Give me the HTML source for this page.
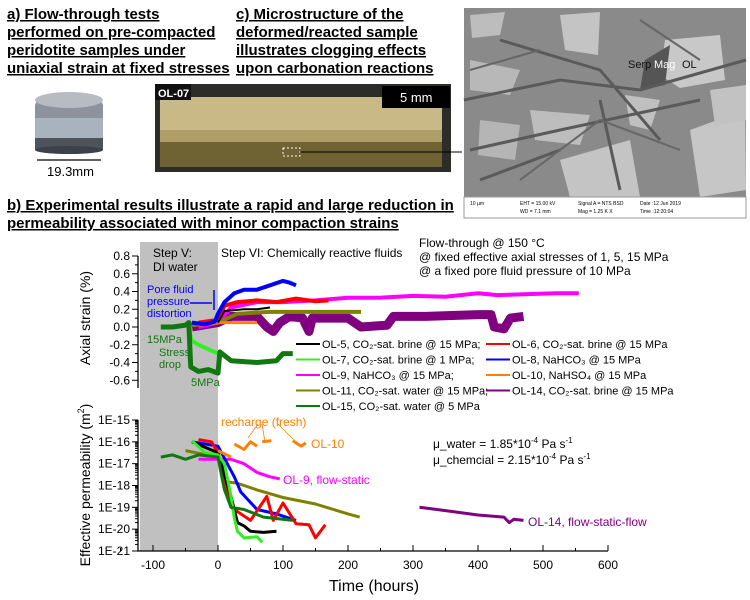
<!DOCTYPE html>
<html><head><meta charset="utf-8"><style>
body{margin:0;background:#fff;width:750px;height:600px;overflow:hidden;font-family:"Liberation Sans",Arial,sans-serif}
svg{display:block}
.h{font-weight:bold;font-size:15px;text-decoration:underline}
.t{font-size:12px}
</style></head><body>
<svg id="fig" width="750" height="600" xmlns="http://www.w3.org/2000/svg">
<g>
<text class="h" x="7" y="19">a) Flow-through tests</text>
<text class="h" x="7" y="37">performed on pre-compacted</text>
<text class="h" x="7" y="55">peridotite samples under</text>
<text class="h" x="7" y="73">uniaxial strain at fixed stresses</text>
<g>
<rect x="35" y="100" width="68" height="50" rx="6" fill="#8d939c"/>
<ellipse cx="69" cy="100" rx="34" ry="8" fill="#b7bcc2"/>
<rect x="35" y="118" width="68" height="20" fill="#a9b3bd"/>
<rect x="35" y="138" width="68" height="12" fill="#4d535b"/>
<ellipse cx="69" cy="150" rx="34" ry="4" fill="#3c4048"/>
</g>
<line x1="37" y1="160" x2="101" y2="160" stroke="#000" stroke-width="1.2"/>
<text x="47" y="176" font-size="13">19.3mm</text>
</g>
<g>
<text class="h" x="236" y="19">c) Microstructure of the</text>
<text class="h" x="236" y="37">deformed/reacted sample</text>
<text class="h" x="236" y="55">illustrates clogging effects</text>
<text class="h" x="236" y="73">upon carbonation reactions</text>
<g>
<rect x="155" y="84" width="296" height="88" fill="#2c2c28"/>
<rect x="160" y="97" width="282" height="70" fill="#a08f55"/>
<rect x="160" y="97" width="282" height="33" fill="#c9b987"/>
<rect x="160" y="130" width="282" height="12" fill="#b09e68"/>
<rect x="160" y="142" width="282" height="25" fill="#6f6233"/>
<rect x="155" y="84" width="36" height="16" fill="#111"/>
<text x="158" y="97" font-size="11" font-weight="bold" fill="#fff">OL-07</text>
<rect x="382" y="86" width="68" height="22" fill="#000"/>
<text x="400" y="102" font-size="13" fill="#fff">5 mm</text>
<rect x="283" y="148" width="17" height="8" fill="none" stroke="#fff" stroke-dasharray="2,2"/>
<line x1="300" y1="152" x2="462" y2="152" stroke="#000"/>
</g>
<g>
<rect x="464" y="8" width="282" height="189" fill="#8a8a8a"/>
<polygon points="560,15 600,12 598,55 565,50" fill="#c4c4c4"/>
<polygon points="665,40 720,35 725,80 680,88 660,75" fill="#c8c8c8"/>
<polygon points="560,160 630,140 640,197 570,197" fill="#c4c4c4"/>
<polygon points="690,130 745,110 746,190 700,197" fill="#c6c6c6"/>
<polygon points="530,110 590,115 580,145 535,140" fill="#bdbdbd"/>
<polygon points="645,60 670,45 665,85 640,90" fill="#555"/>
<polygon points="470,60 520,70 510,95 470,90" fill="#b8b8b8"/>
<polygon points="625,95 660,100 650,130 630,125" fill="#c0c0c0"/>
<polygon points="470,15 505,12 500,35 472,38" fill="#bdbdbd"/>
<polygon points="710,90 746,85 746,120 715,125" fill="#c2c2c2"/>
<polygon points="480,120 520,125 515,160 478,155" fill="#b5b5b5"/>
<path d="M464 100 L560 80 L640 90 L746 60 M470 150 L560 130 L700 100 M500 40 L600 70 L660 140 M600 100 L620 190 M480 180 L560 150" stroke="#5a5a5a" stroke-width="3" fill="none"/>
<path d="M470 70 L540 50 M520 180 L600 120 L680 150 M640 20 L700 60" stroke="#666" stroke-width="2" fill="none"/>
<rect x="464" y="197" width="282" height="21" fill="#fff" stroke="#999"/>
<text x="628" y="68" font-size="11" fill="#111">Serp</text><text x="654" y="68" font-size="11" fill="#fff">Mag</text><text x="682" y="68" font-size="11" fill="#111">OL</text>
<text x="470" y="205" font-size="5">10 µm</text><text x="520" y="205" font-size="5">EHT = 15.00 kV</text><text x="578" y="205" font-size="5">Signal A = NTS BSD</text><text x="640" y="205" font-size="5">Date :12 Jun 2019</text>
<text x="520" y="213" font-size="5">WD = 7.1 mm</text><text x="578" y="213" font-size="5">Mag = 1.25 K X</text><text x="640" y="213" font-size="5">Time :12:20:04</text>
</g>
</g>
<text class="h" x="7" y="210">b) Experimental results illustrate a rapid and large reduction in</text>
<text class="h" x="7" y="228">permeability associated with minor compaction strains</text>
<g id="chart"></g>
</svg>
<script>
// time axis ticks
const xTicks=[-100,0,100,200,300,400,500,600];
const strainTicks=[0.8,0.6,0.4,0.2,0.0,-0.2,-0.4,-0.6];
const strainTickLabels=["0.8","0.6","0.4","0.2","0.0","-0.2","-0.4","-0.6"];
const permTicks=[-15,-16,-17,-18,-19,-20,-21];
const permTickLabels=["1E-15","1E-16","1E-17","1E-18","1E-19","1E-20","1E-21"];
const seriesNames=["OL-5","OL-6","OL-7","OL-8","OL-9","OL-10","OL-11","OL-14","OL-15"];
const seriesColors={"OL-5":"#000","OL-6":"#ff0000","OL-7":"#33ee22","OL-8":"#0000ff","OL-9":"#ff00ff","OL-10":"#ff8000","OL-11":"#808000","OL-14":"#800080","OL-15":"#117711"};
const legendLeft=["OL-5, CO₂-sat. brine @ 15 MPa;","OL-7, CO₂-sat. brine @ 1 MPa;","OL-9, NaHCO₃ @ 15 MPa;","OL-11, CO₂-sat. water @ 15 MPa;","OL-15, CO₂-sat. water @ 5 MPa"];
const legendRight=["OL-6, CO₂-sat. brine @ 15 MPa","OL-8, NaHCO₃ @ 15 MPa","OL-10, NaHSO₄ @ 15 MPa","OL-14, CO₂-sat. brine @ 15 MPa"];
// strain series: [time h, strain %]
const strainOL14=[[-40,0.0],[0,0.05],[20,0.12],[60,0.12],[75,0.0],[85,-0.05],[95,0.05],[110,0.12],[130,0.1],[140,-0.05],[145,0.1],[200,0.1],[220,0.0],[260,0.02],[270,0.12],[320,0.12],[400,0.14],[420,0.14],[425,0.0],[440,-0.02],[450,0.1],[470,0.12]];
const strainOL9=[[-30,0.0],[0,0.05],[20,0.22],[60,0.28],[100,0.28],[150,0.3],[200,0.33],[250,0.33],[300,0.35],[350,0.34],[400,0.38],[430,0.36],[470,0.37],[520,0.38],[555,0.38]];
const strainOL6=[[-30,0.05],[0,0.08],[10,0.24],[30,0.28],[60,0.3],[90,0.28],[120,0.32],[150,0.29],[170,0.3]];
const strainOL8=[[-40,0.05],[-20,0.03],[-5,0.06],[0,0.15],[10,0.28],[25,0.38],[40,0.42],[60,0.42],[80,0.47],[100,0.52],[110,0.5],[120,0.47]];
const strainOL11=[[-40,0.02],[0,0.05],[30,0.15],[80,0.17],[130,0.17],[180,0.17],[220,0.17]];
const strainOL10=[[-20,0.03],[0,0.05],[30,0.05],[60,0.05]];
const strainOL5=[[0,0.05],[10,0.18],[40,0.2],[60,0.2],[80,0.22]];
const strainOL7=[[-45,0.0],[-41,-0.15],[-30,-0.2],[-15,-0.25],[0,-0.3]];
const strainOL15=[[-88,0.0],[-70,0.0],[-50,0.02],[-45,0.05],[-42,-0.45],[-30,-0.5],[-15,-0.48],[0,-0.52],[3,-0.28],[20,-0.38],[60,-0.4],[90,-0.38],[100,-0.3],[115,-0.3]];
// permeability series: [time h, log10 k]
const permOL15=[[-88,-16.7],[-70,-16.6],[-50,-16.8],[-30,-16.6],[0,-16.7],[5,-17.5],[10,-18.2],[20,-19.0],[40,-19.1],[70,-19.45],[115,-19.6]];
const permOL7=[[-40,-15.95],[-20,-16.5],[0,-16.6],[10,-17.0],[20,-18.5],[25,-19.5],[30,-20.1],[40,-20.4],[60,-20.35],[68,-20.6]];
const permOL5=[[-40,-16.0],[0,-16.5],[20,-18.5],[30,-19.7],[40,-19.85],[50,-20.1],[70,-20.15],[90,-20.1]];
const permOL6=[[-30,-15.9],[-10,-16.0],[0,-16.5],[20,-19.0],[50,-19.6],[75,-18.5],[85,-19.6],[100,-18.8],[120,-19.75],[140,-19.8],[150,-20.4],[165,-19.8]];
const permOL8=[[-40,-16.0],[0,-16.2],[25,-17.6],[35,-18.3],[60,-19.1],[90,-19.3],[120,-19.6]];
const permOL9=[[-30,-16.8],[20,-16.8],[40,-17.0],[60,-17.4],[80,-17.6],[95,-17.7]];
const permOL11=[[-50,-16.4],[0,-16.7],[8,-17.8],[30,-17.9],[60,-18.2],[100,-18.55],[150,-18.85],[200,-19.3],[218,-19.45]];
const permOL10a=[[0,-16.4],[20,-16.7]];
const permOL10b=[[25,-16.1],[40,-16.35],[50,-16.0],[60,-16.2]];
const permOL10c=[[68,-16.0],[82,-15.95]];
const permOL10d=[[115,-15.95],[128,-16.2],[135,-16.05]];
const permOL14=[[310,-19.0],[350,-19.15],[400,-19.35],[440,-19.45],[448,-19.7],[455,-19.55],[470,-19.6]];

const NS="http://www.w3.org/2000/svg";
const g=document.getElementById('chart');
const X=t=>218+t*0.65;
const YS=s=>327-s*88.75;
const YP=l=>420+(-15-l)*21.83;
function mk(tag,at,parent){const e=document.createElementNS(NS,tag);for(const k in at)e.setAttribute(k,at[k]);(parent||g).appendChild(e);return e;}
function txt(x,y,s,at){const e=mk('text',Object.assign({x:x,y:y},at||{}));e.textContent=s;return e;}

const box=mk('rect',{x:X(-120),y:242,width:X(0)-X(-120),height:551-242,fill:'#c0c0c0'});



// axes
const ax=mk('path',{d:`M138 256 V388 M138 420 V551 H${X(600)}`,stroke:'#000','stroke-width':1.3,fill:'none'});


strainTicks.forEach((v,i)=>{
  mk('line',{x1:132,x2:138,y1:YS(v),y2:YS(v),stroke:'#000'});
  if(i<strainTicks.length-1) mk('line',{x1:135,x2:138,y1:YS(v-0.1),y2:YS(v-0.1),stroke:'#000'});
  const e=txt(130,YS(v)+4,strainTickLabels[i],{'font-size':12,'text-anchor':'end'});
  
  
});
permTicks.forEach((v,i)=>{
  mk('line',{x1:132,x2:138,y1:YP(v),y2:YP(v),stroke:'#000'});
  if(i<permTicks.length-1) for(let m=2;m<10;m++){const yy=YP(v-1+Math.log10(m));mk('line',{x1:135,x2:138,y1:yy,y2:yy,stroke:'#000'});}
  const e=txt(130,YP(v)+4,permTickLabels[i],{'font-size':12,'text-anchor':'end'});
  
  
});
xTicks.forEach(v=>{
  mk('line',{x1:X(v),x2:X(v),y1:551,y2:545,stroke:'#000'});
  mk('line',{x1:X(v-50),x2:X(v-50),y1:551,y2:548,stroke:'#000'});
  const e=txt(X(v),569,String(v),{'font-size':12,'text-anchor':'middle'});
  
  
});
let e;
e=txt(374,591,'Time (hours)',{'font-size':16,'text-anchor':'middle'});


e=txt(0,0,'Axial strain (%)',{'font-size':14,'text-anchor':'middle',transform:'translate(90,318) rotate(-90)'});


e=txt(0,0,'',{'font-size':14,'text-anchor':'middle',transform:'translate(90,485) rotate(-90)'});
e.innerHTML='Effective permeability (m<tspan font-size="9" dy="-6">2</tspan><tspan dy="6">)</tspan>';



function line(arr,Y,color,w,name){
  const d=arr.map((p,i)=>(i?'L':'M')+X(p[0]).toFixed(1)+' '+Y(p[1]).toFixed(1)).join(' ');
  const p=mk('path',{d:d,stroke:color,'stroke-width':w,fill:'none','stroke-linejoin':'round'});
  
  
}
const C=seriesColors;
line(strainOL14,YS,C['OL-14'],9,'strain-ol14');
line(strainOL9,YS,C['OL-9'],4,'strain-ol9');
line(strainOL11,YS,C['OL-11'],4,'strain-ol11');
line(strainOL10,YS,C['OL-10'],3,'strain-ol10');
line(strainOL6,YS,C['OL-6'],4,'strain-ol6');
line(strainOL8,YS,C['OL-8'],4,'strain-ol8');
line(strainOL5,YS,C['OL-5'],2,'strain-ol5');
line(strainOL7,YS,C['OL-7'],4,'strain-ol7');
line(strainOL15,YS,C['OL-15'],5,'strain-ol15');

line(permOL11,YP,C['OL-11'],3,'perm-ol11');
line(permOL9,YP,C['OL-9'],3,'perm-ol9');
line(permOL8,YP,C['OL-8'],3,'perm-ol8');
line(permOL6,YP,C['OL-6'],3,'perm-ol6');
line(permOL5,YP,C['OL-5'],3,'perm-ol5');
line(permOL7,YP,C['OL-7'],3,'perm-ol7');
line(permOL15,YP,C['OL-15'],3,'perm-ol15');
[permOL10a,permOL10b,permOL10c,permOL10d].forEach(a=>line(a,YP,C['OL-10'],3,'perm-ol10'));
line(permOL14,YP,C['OL-14'],3,'perm-ol14');

// legend
legendLeft.forEach((s,i)=>{
  const y=348+i*15.5;const c=C[s.split(',')[0]];
  mk('line',{x1:296,x2:320,y1:y-4,y2:y-4,stroke:c,'stroke-width':2});
  const t=txt(322,y,s,{'font-size':11});
  
  
});
legendRight.forEach((s,i)=>{
  const y=348+i*15.5;const c=C[s.split(',')[0]];
  mk('line',{x1:486,x2:510,y1:y-4,y2:y-4,stroke:c,'stroke-width':2});
  const t=txt(512,y,s,{'font-size':11});
  
  
});

// annotations
const ann=[
 [153,257,'Step V:',12,'#000'],[153,271,'DI water',12,'#000'],[221,257,'Step VI: Chemically reactive fluids',12,'#000'],
 [419,247,'Flow-through @ 150 °C',12,'#000'],[419,261,'@ fixed effective axial stresses of 1, 5, 15 MPa',12,'#000'],[419,275,'@ a fixed pore fluid pressure of 10 MPa',12,'#000'],
 [147,293,'Pore fluid',11,'#0000ff'],[147,305,'pressure',11,'#0000ff'],[147,317,'distortion',11,'#0000ff'],
 [147,343,'15MPa',11,'#117711'],[159,356,'Stress',11,'#117711'],[159,368,'drop',11,'#117711'],[191,386,'5MPa',11,'#117711'],
 [221,426,'recharge (fresh)',12,'#ff8000'],[311,448,'OL-10',12,'#ff8000'],[283,484,'OL-9, flow-static',12,'#ff00ff'],
 [528,526,'OL-14, flow-static-flow',12,'#800080']
];
ann.forEach(a=>{const t=txt(a[0],a[1],a[2],{'font-size':a[3],fill:a[4]});
  
  });
mk('path',{d:'M190 303 H212 M214 290 V310',stroke:'#0000ff','stroke-width':1.5,fill:'none'});
mk('path',{d:'M258 424 L248 438 M262 424 L265 442 M278 424 L298 444',stroke:'#ff8000','stroke-width':0.8,fill:'none'});
e=txt(433,448,'',{'font-size':12});
e.innerHTML='μ_water = 1.85*10<tspan font-size="8" dy="-5">-4</tspan><tspan dy="5"> Pa s</tspan><tspan font-size="8" dy="-5">-1</tspan>';


e=txt(433,464,'',{'font-size':12});
e.innerHTML='μ_chemcial = 2.15*10<tspan font-size="8" dy="-5">-4</tspan><tspan dy="5"> Pa s</tspan><tspan font-size="8" dy="-5">-1</tspan>';


</script>
</body></html>
